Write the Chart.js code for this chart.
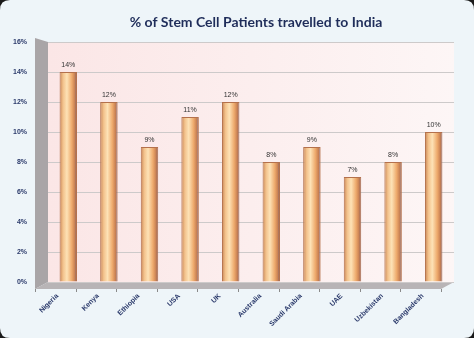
<!DOCTYPE html>
<html><head><meta charset="utf-8">
<script src="https://cdn.jsdelivr.net/npm/chart.js@4/dist/chart.umd.min.js"></script>
<style>html,body{margin:0;padding:0;background:#1a1a1a;}#wrap{width:474px;height:338px;}</style>
</head><body><div id="wrap"><canvas id="c" width="474" height="338"></canvas></div>
<script>
const titleText = "% of Stem Cell Patients travelled to India";
const categories = ["Nigeria","Kenya","Ethiopia","USA","UK","Australia","Saudi Arabia","UAE","Uzbekistan","Bangladesh"];
const values = [14,12,9,11,12,8,9,7,8,10];
const yTicks = [0,2,4,6,8,10,12,14,16];

const bgPlugin = {
  id:'bg',
  beforeDraw(chart){
    const ctx = chart.ctx, W = chart.width, H = chart.height;
    ctx.save();
    ctx.fillStyle = '#1a1a1a'; ctx.fillRect(0,0,W,H);
    const r = 10;
    ctx.beginPath();
    ctx.moveTo(r,0); ctx.lineTo(W-r,0); ctx.quadraticCurveTo(W,0,W,r);
    ctx.lineTo(W,H-r); ctx.quadraticCurveTo(W,H,W-r,H);
    ctx.lineTo(r,H); ctx.quadraticCurveTo(0,H,0,H-r);
    ctx.lineTo(0,r); ctx.quadraticCurveTo(0,0,r,0); ctx.closePath();
    ctx.fillStyle = '#eef5f9'; ctx.fill();
    const a = chart.chartArea;
    const g = ctx.createLinearGradient(a.left,0,a.right,0);
    g.addColorStop(0,'#fbe6e6'); g.addColorStop(1,'#fdf6f6');
    ctx.fillStyle = g; ctx.fillRect(a.left, a.top, a.right-a.left, a.bottom-a.top);
    ctx.beginPath();
    ctx.moveTo(a.left-13, a.top-4); ctx.lineTo(a.left, a.top); ctx.lineTo(a.left, a.bottom); ctx.lineTo(a.left-13, a.bottom+7); ctx.closePath();
    ctx.fillStyle = '#a9a5a7'; ctx.fill();
    ctx.beginPath();
    ctx.moveTo(a.left, a.bottom); ctx.lineTo(a.right, a.bottom); ctx.lineTo(a.right-13, a.bottom+7); ctx.lineTo(a.left-13, a.bottom+7); ctx.closePath();
    ctx.fillStyle = '#b8b4b6'; ctx.fill();
    // front-edge category ticks
    const xs = chart.scales.x;
    ctx.strokeStyle = '#8a8a8a'; ctx.lineWidth = 1;
    for(let i=0;i<=categories.length;i++){
      const x = Math.round(xs.left + i*xs.width/categories.length - 13) + 0.5;
      ctx.beginPath(); ctx.moveTo(x, a.bottom+7); ctx.lineTo(x, a.bottom+10); ctx.stroke();
    }
    ctx.restore();
  },
  afterDraw(chart){
    const ctx = chart.ctx;
    ctx.save();
    ctx.font = 'bold 14px Lato, "Liberation Sans", sans-serif';
    ctx.fillStyle = '#1f2d5a'; ctx.textAlign='center'; ctx.textBaseline='middle';
    ctx.fillText(titleText, 256, 22);
    const meta = chart.getDatasetMeta(0);
    ctx.font = '7px "Liberation Sans", sans-serif';
    ctx.fillStyle = '#333'; ctx.textBaseline='bottom';
    meta.data.forEach((el,i)=>{ ctx.fillText(values[i]+'%', el.x, el.y-3); });
    ctx.restore();
  }
};

function barGrad(c){
  const chart = c.chart;
  const xs = chart.scales && chart.scales.x;
  if(!chart.chartArea || !xs || c.dataIndex === undefined) return '#f0b070';
  const cx = xs.getPixelForValue(c.dataIndex);
  const w = xs.width / categories.length * 0.43;
  if(!isFinite(cx) || !isFinite(w)) return '#f0b070';
  const g = chart.ctx.createLinearGradient(cx - w/2, 0, cx + w/2, 0);
  g.addColorStop(0,'#c88656');
  g.addColorStop(0.2,'#f3c28c');
  g.addColorStop(0.42,'#fde2b6');
  g.addColorStop(0.7,'#eeaa6c');
  g.addColorStop(0.88,'#c77f52');
  g.addColorStop(1,'#6d5b72');
  return g;
}

new Chart(document.getElementById('c'), {
  type:'bar',
  data:{ labels: categories, datasets:[{ data: values, backgroundColor: barGrad, borderColor:'#b4714c', borderWidth:1, barPercentage:0.43, categoryPercentage:1 }]},
  options:{
    responsive:false, animation:false, devicePixelRatio:1,
    layout:{ padding:{ top:42, right:20, left:0, bottom:0 } },
    plugins:{ legend:{display:false}, title:{display:false}, tooltip:{enabled:false} },
    scales:{
      x:{
        grid:{ display:false },
        border:{ display:false },
        ticks:{ minRotation:45, maxRotation:45, labelOffset:-11, color:'#2b3a6b', font:{ size:7, weight:'bold', family:'"Liberation Sans", sans-serif' }, padding:2 },
        afterFit(s){ s.height = 56; }
      },
      y:{
        min:0, max:16,
        afterBuildTicks(s){ s.ticks = yTicks.map(v=>({value:v})); },
        grid:{ color:'#cdcaca', drawTicks:false },
        border:{ display:false },
        ticks:{ color:'#2b3a6b', font:{ size:7, weight:'bold', family:'"Liberation Sans", sans-serif' }, padding:21, callback:v=>v+'%' },
        afterFit(s){ s.width = 48; }
      }
    }
  },
  plugins:[bgPlugin]
});
</script></body></html>
